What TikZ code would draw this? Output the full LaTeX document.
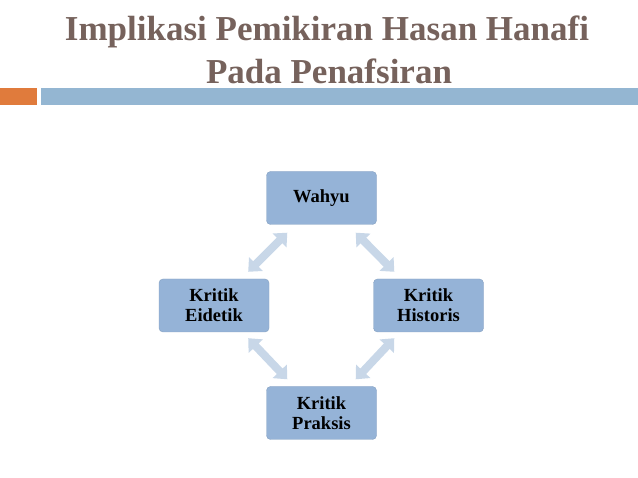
\documentclass[tikz,border=0pt]{standalone}
\usepackage{fontspec}
\setmainfont{Liberation Serif}
\usetikzlibrary{arrows.meta,calc}
\definecolor{titlebrown}{HTML}{76625C}
\definecolor{barorange}{HTML}{E07B3C}
\definecolor{barblue}{HTML}{94B6D2}
\definecolor{boxblue}{HTML}{95B3D7}
\definecolor{linkblue}{HTML}{C8D7E8}
\begin{document}
\begin{tikzpicture}[x=1pt, y=-1pt,
    title/.style={anchor=base, text=titlebrown, font=\fontsize{35}{40}\selectfont\bfseries, inner sep=0pt},
    stage/.style={rectangle, rounded corners=4pt, fill=boxblue, draw=boxblue!90!black, line width=0.4pt,
      minimum width=110pt, minimum height=53pt, align=center, font=\fontsize{18.5}{20}\selectfont\bfseries},
    link/.style={draw=linkblue, line width=8pt, {Triangle[width=19pt,length=11pt]}-{Triangle[width=19pt,length=11pt]}}]
  \useasboundingbox (0,0) rectangle (638,478);
  % title and bars
  \node[title] (title1) at (327,41) {Implikasi Pemikiran Hasan Hanafi};
  \node[title] (title2) at (329,84) {Pada Penafsiran};
  \fill[barorange] (0,88) rectangle (37,105);
  \fill[barblue] (41,88) rectangle (638,105);
  % stages
  \node[stage] (wahyu) at (321.5,198) {Wahyu};
  \node[stage] (eidetik) at (214,305.5) {Kritik\\Eidetik};
  \node[stage] (historis) at (428.5,305.5) {Kritik\\Historis};
  \node[stage] (praksis) at (321.5,413) {Kritik\\Praksis};
  \begin{scope}
    \draw[link] ([shift={(21,8)}]wahyu.south west) -- ([shift={(-21,-7)}]eidetik.north east);
    \draw[link] ([shift={(-21,8)}]wahyu.south east) -- ([shift={(21,-7)}]historis.north west);
    \draw[link] ([shift={(-21,6)}]eidetik.south east) -- ([shift={(21,-7)}]praksis.north west);
    \draw[link] ([shift={(21,6)}]historis.south west) -- ([shift={(-21,-7)}]praksis.north east);
  \end{scope}
\end{tikzpicture}
\end{document}
